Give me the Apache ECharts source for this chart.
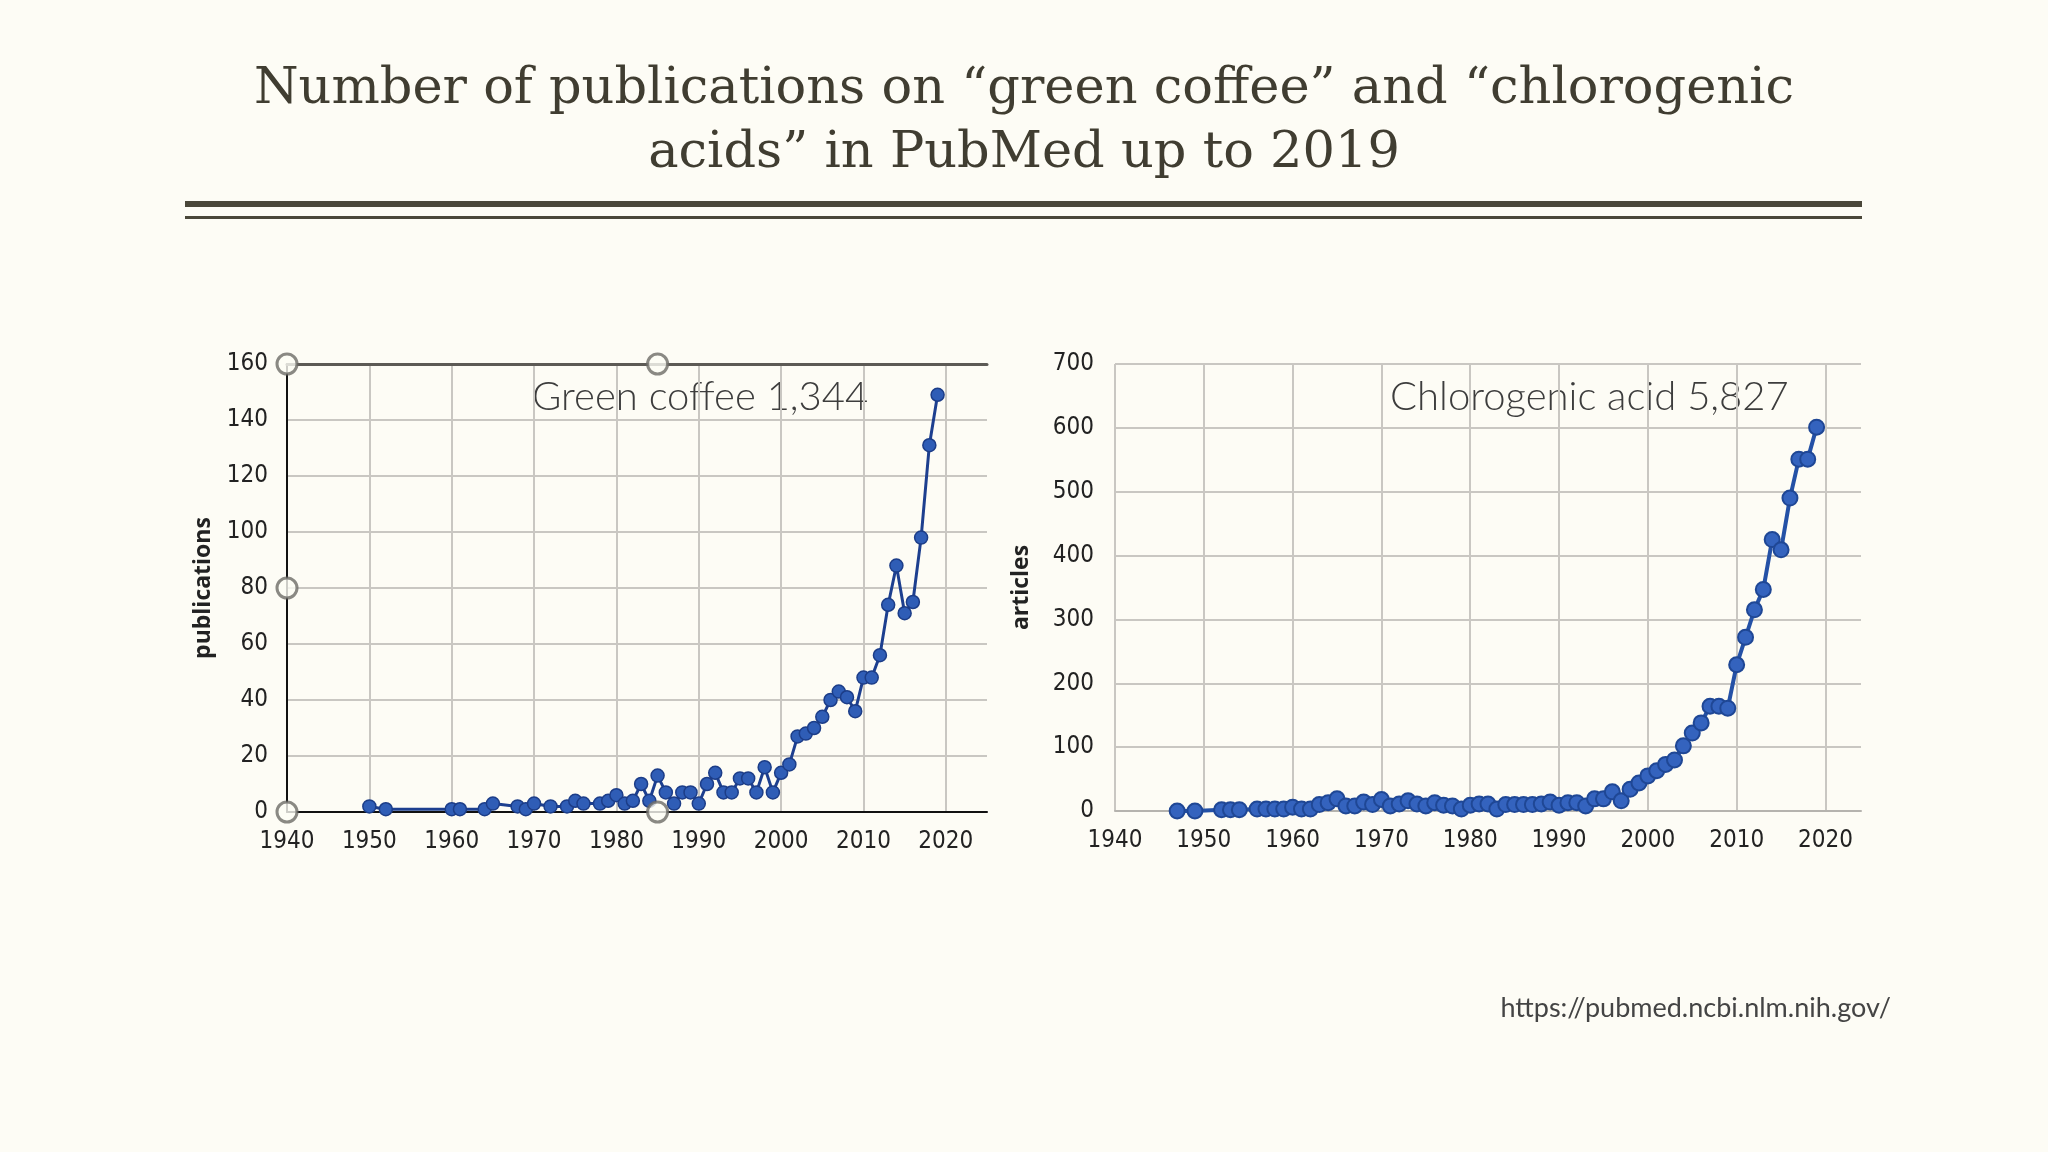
<!DOCTYPE html>
<html>
<head>
<meta charset="utf-8">
<script src="https://cdn.jsdelivr.net/npm/echarts@6/dist/echarts.min.js"></script>
<style>
  html, body { margin: 0; padding: 0; background: #fdfcf5; }
  #main { width: 2048px; height: 1152px; }
</style>
</head>
<body>
<div id="main"></div>
<script>
// green coffee, publications per year
var coffeeYears = [1950, 1952, 1960, 1961, 1964, 1965, 1968, 1969, 1970, 1972, 1974, 1975, 1976,
  1978, 1979, 1980, 1981, 1982, 1983, 1984, 1985, 1986, 1987, 1988, 1989, 1990, 1991, 1992, 1993,
  1994, 1995, 1996, 1997, 1998, 1999, 2000, 2001, 2002, 2003, 2004, 2005, 2006, 2007, 2008, 2009,
  2010, 2011, 2012, 2013, 2014, 2015, 2016, 2017, 2018, 2019];
var coffeeCounts = [2, 1, 1, 1, 1, 3, 2, 1, 3, 2, 2, 4, 3,
  3, 4, 6, 3, 4, 10, 4, 13, 7, 3, 7, 7, 3, 10, 14, 7,
  7, 12, 12, 7, 16, 7, 14, 17, 27, 28, 30, 34, 40, 43, 41, 36,
  48, 48, 56, 74, 88, 71, 75, 98, 131, 149];

// chlorogenic acid, articles per year
var acidYears = [1947, 1949, 1952, 1953, 1954, 1956, 1957, 1958, 1959, 1960, 1961, 1962, 1963,
  1964, 1965, 1966, 1967, 1968, 1969, 1970, 1971, 1972, 1973, 1974, 1975, 1976, 1977, 1978, 1979,
  1980, 1981, 1982, 1983, 1984, 1985, 1986, 1987, 1988, 1989, 1990, 1991, 1992, 1993, 1994, 1995,
  1996, 1997, 1998, 1999, 2000, 2001, 2002, 2003, 2004, 2005, 2006, 2007, 2008, 2009, 2010, 2011,
  2012, 2013, 2014, 2015, 2016, 2017, 2018, 2019];
var acidCounts = [0, 0, 2, 2, 2, 3, 3, 3, 3, 6, 3, 3, 10,
  13, 19, 8, 8, 14, 10, 18, 8, 11, 16, 11, 8, 13, 9, 8, 3,
  9, 11, 11, 3, 10, 10, 10, 10, 11, 14, 9, 13, 13, 8, 19, 19,
  30, 16, 34, 44, 55, 63, 73, 80, 102, 122, 138, 164, 164, 161, 229, 272,
  315, 347, 425, 409, 490, 551, 551, 601];

// selection handles left on the pasted chart (year, value)
var handleYears = [1940, 1985, 1940, 1940, 1985];
var handleValues = [160, 160, 80, 0, 0];

function pairs(xs, ys) {
  var out = [];
  for (var i = 0; i < xs.length; i++) out.push([xs[i], ys[i]]);
  return out;
}

var tickFont = '"Liberation Sans Narrow", "DejaVu Sans Condensed", sans-serif';
var gridGrey = '#c9c7c2';
var plain = function (v) { return String(v); };

var myChart = echarts.init(document.getElementById('main'));

var option = {
  backgroundColor: '#fdfcf5',
  animation: false,
  title: [{
    text: 'Number of publications on \u201cgreen coffee\u201d and \u201cchlorogenic\nacids\u201d in PubMed up to 2019',
    left: 'center',
    top: 53,
    textStyle: {
      fontFamily: '"DejaVu Serif", serif',
      fontSize: 51,
      fontWeight: 'normal',
      color: '#403d31',
      lineHeight: 64,
      align: 'center'
    }
  }],
  graphic: [
    { type: 'rect', shape: { x: 185, y: 201, width: 1677, height: 6 }, style: { fill: '#4a4739' } },
    { type: 'rect', shape: { x: 185, y: 216, width: 1677, height: 3 }, style: { fill: '#4a4739' } },
    { type: 'text', x: 532, y: 397, style: { text: 'Green coffee 1,344', fontFamily: 'Lato', fontWeight: 300,
        fontSize: 40, fill: '#3d3d3d', verticalAlign: 'middle' } },
    { type: 'text', x: 1390, y: 397, style: { text: 'Chlorogenic acid 5,827', fontFamily: 'Lato', fontWeight: 300,
        fontSize: 40, fill: '#3d3d3d', verticalAlign: 'middle' } },
    { type: 'text', x: 1891, y: 1008, style: { text: 'https://pubmed.ncbi.nlm.nih.gov/', fontFamily: 'Lato',
        fontSize: 27, fill: '#444444', align: 'right', verticalAlign: 'middle' } }
  ],
  grid: [
    { left: 287, top: 364, right: 1061, bottom: 340 },
    { left: 1115, top: 364, right: 187, bottom: 341 }
  ],
  xAxis: [{
    gridIndex: 0, type: 'value', min: 1940, max: 2025, interval: 10,
    axisLine: { lineStyle: { color: '#111', width: 2 } },
    axisTick: { show: false },
    axisLabel: { showMaxLabel: false, margin: 18, fontFamily: tickFont, fontSize: 24, color: '#222', formatter: plain },
    splitLine: { show: true, showMaxLine: false, lineStyle: { color: gridGrey, width: 2 } }
  }, {
    gridIndex: 0, type: 'value', position: 'top', min: 1940, max: 2025,
    axisLine: { lineStyle: { color: '#5c5a55', width: 3 } },
    axisTick: { show: false }, axisLabel: { show: false }, splitLine: { show: false }
  }, {
    gridIndex: 1, type: 'value', min: 1940, max: 2024, interval: 10,
    axisLine: { lineStyle: { color: '#b5b3ae', width: 2 } },
    axisTick: { show: false },
    axisLabel: { showMaxLabel: false, margin: 18, fontFamily: tickFont, fontSize: 24, color: '#222', formatter: plain },
    splitLine: { show: true, showMaxLine: false, lineStyle: { color: gridGrey, width: 2 } }
  }],
  yAxis: [{
    gridIndex: 0, type: 'value', min: 0, max: 160, interval: 20,
    name: 'publications', nameLocation: 'middle', nameGap: 72,
    nameTextStyle: { fontFamily: '"Open Sans", sans-serif', fontWeight: 'bold', fontSize: 23, color: '#222' },
    axisLine: { show: true, lineStyle: { color: '#111', width: 2 } },
    axisTick: { show: false },
    axisLabel: { margin: 19, fontFamily: tickFont, fontSize: 24, color: '#222', formatter: plain },
    splitLine: { lineStyle: { color: gridGrey, width: 2 } }
  }, {
    gridIndex: 1, type: 'value', min: 0, max: 700, interval: 100,
    name: 'articles', nameLocation: 'middle', nameGap: 82,
    nameTextStyle: { fontFamily: '"Open Sans", sans-serif', fontWeight: 'bold', fontSize: 23, color: '#222' },
    axisLine: { show: false },
    axisTick: { show: false },
    axisLabel: { margin: 21, fontFamily: tickFont, fontSize: 24, color: '#222', formatter: plain },
    splitLine: { lineStyle: { color: gridGrey, width: 2 } }
  }],
  series: [{
    type: 'line', xAxisIndex: 0, yAxisIndex: 0,
    data: pairs(coffeeYears, coffeeCounts),
    symbol: 'circle', symbolSize: 13,
    lineStyle: { color: '#1d3f8f', width: 3 },
    itemStyle: { color: '#2f5db6', borderColor: '#1c3d88', borderWidth: 1.5 },
    z: 5
  }, {
    type: 'scatter', xAxisIndex: 0, yAxisIndex: 0,
    data: pairs(handleYears, handleValues),
    symbol: 'circle', symbolSize: 20,
    itemStyle: { color: '#fdfcf5', borderColor: '#6d6b66', borderWidth: 3 },
    clip: false, z: 10
  }, {
    type: 'line', xAxisIndex: 2, yAxisIndex: 1,
    data: pairs(acidYears, acidCounts),
    symbol: 'circle', symbolSize: 15,
    lineStyle: { color: '#2451a6', width: 4 },
    itemStyle: { color: '#3463be', borderColor: '#1f4795', borderWidth: 2 },
    z: 5
  }]
};

myChart.setOption(option);
</script>
</body>
</html>
